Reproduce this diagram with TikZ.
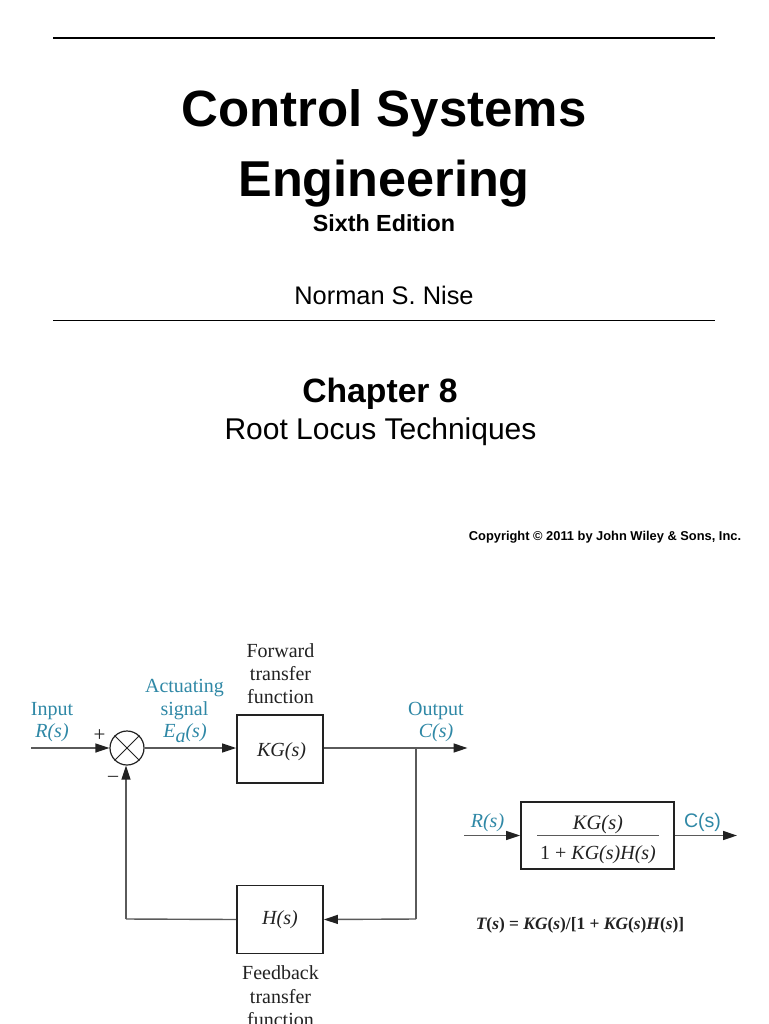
\documentclass[tikz,border=0pt]{standalone}
\usepackage{fontspec}
\setmainfont{Liberation Sans}
\newfontfamily\figserif{Liberation Serif}
\usetikzlibrary{arrows.meta,calc}
\definecolor{tealtxt}{HTML}{2F88A6}
\definecolor{linegray}{HTML}{5A5A5A}
\definecolor{boxdark}{HTML}{222222}
\newcommand{\bu}[1]{{\upshape #1}}
\tikzset{
  x=1pt,y=-1pt,
  title/.style={font=\fontsize{51}{51}\selectfont\bfseries,anchor=base,inner sep=0,text=black},
  lab/.style={font=\figserif\fontsize{20}{24}\selectfont,align=center,text=boxdark,inner sep=0},
  sig/.style={font=\figserif\fontsize{20}{24}\selectfont,align=center,text=tealtxt,inner sep=0},
  sigit/.style={sig,font=\figserif\itshape\fontsize{20}{24}\selectfont},
  block/.style={draw=boxdark,line width=1.8pt,fill=white,inner sep=0,font=\figserif\itshape\fontsize{20}{24}\selectfont,text=boxdark},
  conn/.style={draw=linegray,line width=1.4pt},
  arr/.style={conn,-{Triangle[length=14pt,width=9pt,color=boxdark]}}
}
\begin{document}
\begin{tikzpicture}
\useasboundingbox (0,0) rectangle (768,1024);
\clip (0,0) rectangle (768,1024);
\fill[white] (0,0) rectangle (768,1024);
\coordinate (r1a) at (53,38); \coordinate (r1b) at (715,38);
\coordinate (r2a) at (53,320); \coordinate (r2b) at (715,320);
\draw[line width=1.7pt] (r1a) -- (r1b);
\draw[line width=.9pt] (r2a) -- (r2b);
\node[title] (t1) at (384,127) {Control Systems};
\node[title,font=\fontsize{50.4}{51}\selectfont\bfseries] (t2) at (384,197) {Engineering};
\node[anchor=base,inner sep=0,font=\fontsize{23.3}{23}\selectfont\bfseries] (ed) at (384,232) {Sixth Edition};
\node[anchor=base,inner sep=0,font=\fontsize{25.4}{25}\selectfont] (au) at (384,304) {Norman S. Nise};
\node[anchor=base,inner sep=0,font=\fontsize{33.7}{33}\selectfont\bfseries] (ch) at (380,402) {Chapter 8};
\node[anchor=base,inner sep=0,font=\fontsize{30}{30}\selectfont] (rl) at (380.5,439) {Root Locus Techniques};
\node[anchor=base,inner sep=0,font=\fontsize{12.85}{12}\selectfont\bfseries] (cp) at (605,540) {Copyright © 2011 by John Wiley \& Sons, Inc.};

% left diagram
\node[draw=boxdark,line width=1.2pt,circle,minimum size=34pt,inner sep=0,fill=white] (sum) at (127,748) {};
\draw[boxdark,line width=1pt] (sum.45) -- (sum.225) (sum.135) -- (sum.315);
\node[block,minimum width=86pt,minimum height=68pt] (kg) at (280,749) {};
\node[block,minimum width=86pt,minimum height=68pt] (hb) at (280,919.5) {};
\node[anchor=base,inner sep=0,text=boxdark,font=\figserif\itshape\fontsize{20}{24}\selectfont] (kgt) at (281.5,756) {KG(s)};
\node[anchor=base,inner sep=0,text=boxdark,font=\figserif\itshape\fontsize{20}{24}\selectfont] (hbt) at (280,924) {H(s)};
\coordinate (in) at (31,748);
\coordinate (out) at (467.5,748);
\coordinate (br) at (416,748);
\coordinate (brd) at (416,919);
\coordinate (fbc) at (126,919);
\draw[arr] (in) -- (sum.west);
\draw[arr] (sum.east) -- (kg.west |- sum.east);
\draw[arr] (kg.east |- br) -- (out);
\draw[conn] (br) -- (brd);
\draw[arr] (brd) -- (hb.east);
\draw[conn] (hb.west) -- (fbc);
\draw[arr] (fbc) -- (fbc |- sum.south);
\node[lab,anchor=base,font=\figserif\fontsize{21}{21}\selectfont] (plus) at (99.5,741) {+};
\node[lab,anchor=base,font=\figserif\fontsize{20}{20}\selectfont] (minus) at (113,781) {–};
\node[sig,anchor=base] (n1) at (52,715) {Input};
\node[sigit,anchor=base] (n2) at (52,737) {R(s)};
\node[sig,anchor=base] (a1) at (184.5,692.5) {Actuating};
\node[sig,anchor=base] (a2) at (184.5,715.5) {signal};
\node[sigit,anchor=base] (a3) at (185,737) {E\raisebox{-5pt}{a}(s)};
\node[lab,anchor=base] (f1) at (280.5,657) {Forward};
\node[lab,anchor=base] (f2) at (280.5,680) {transfer};
\node[lab,anchor=base] (f3) at (280.5,703) {function};
\node[sig,anchor=base] (o1) at (436,715) {Output};
\node[sigit,anchor=base] (o2) at (436,737) {C(s)};
\node[lab,anchor=base] (b1) at (280.5,979) {Feedback};
\node[lab,anchor=base] (b2) at (280.5,1003) {transfer};
\node[lab,anchor=base] (b3) at (280.5,1026) {function};

% right diagram
\node[block,minimum width=153pt,minimum height=67pt] (tf) at (597.5,835.5) {};
\coordinate (rin) at (464,835.5);
\coordinate (rout) at (737,835.5);
\draw[arr] (rin) -- (tf.west);
\draw[arr] (tf.east) -- (rout);
\coordinate (fa) at (537,835.5); \coordinate (fb) at (659,835.5);
\draw[linegray,line width=1pt] (fa) -- (fb);
\node[anchor=base,inner sep=0,text=boxdark,font=\figserif\itshape\fontsize{20.5}{22}\selectfont] (num) at (598,829) {KG(s)};
\node[anchor=base,inner sep=0,text=boxdark,font=\figserif\fontsize{20}{22}\selectfont] (den) at (598,859) {1 + \itshape KG(s)H(s)};
\node[sigit,anchor=base] (rr) at (487.5,827) {R(s)};
\node[anchor=base,inner sep=0,text=tealtxt,font=\fontsize{19.6}{22}\selectfont] (cc) at (702.5,827) {C(s)};
\node[anchor=base,inner sep=0,text=boxdark,font=\figserif\bfseries\itshape\fontsize{17.4}{20}\selectfont] (tr) at (580,929)
 {T\bu{(}s\bu{) = }KG\bu{(}s\bu{)/[1 + }KG\bu{(}s\bu{)}H\bu{(}s\bu{)]}};
\end{tikzpicture}
\end{document}
